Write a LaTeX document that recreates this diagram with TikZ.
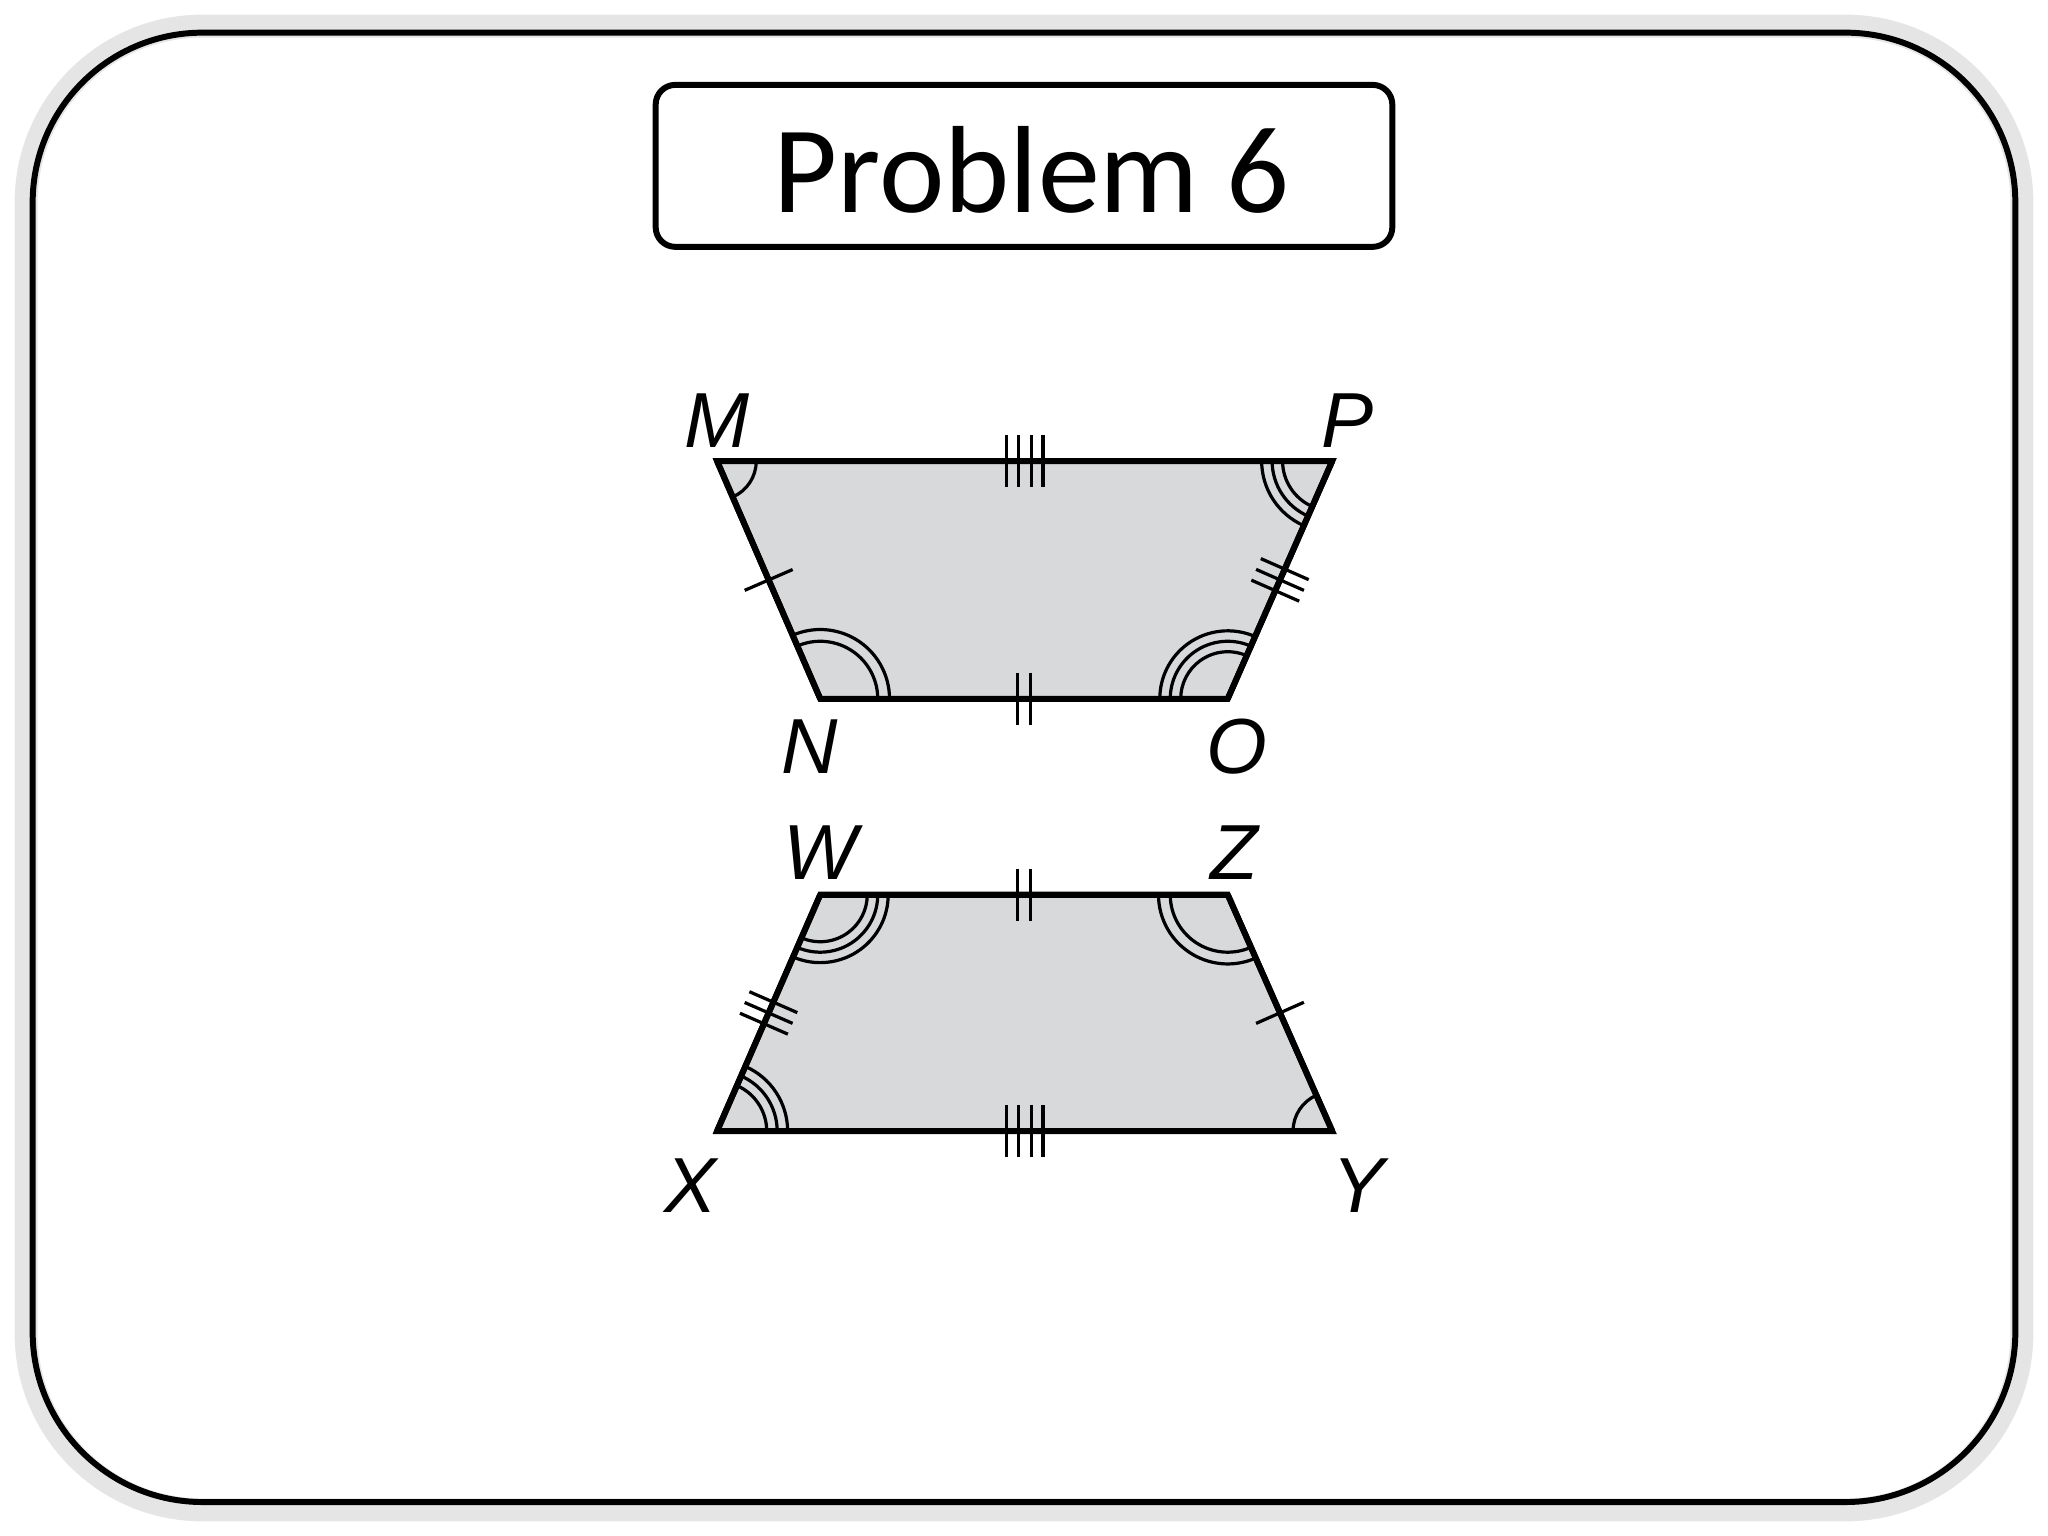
\documentclass[tikz,border=0pt]{standalone}
\usepackage{fontspec}
\setmainfont{Carlito}
\newfontfamily\lblfont{Liberation Sans}
\usetikzlibrary{angles,decorations.markings,calc}
\definecolor{shapegray}{RGB}{216,217,219}
\tikzset{
  edge/.style={line width=1.3pt},
  lbl/.style={font=\lblfont\itshape\fontsize{17}{17}\selectfont},
  arc1/.style={draw,line width=0.7pt},
  tk/.style={line width=0.7pt},
  ticks1/.style={postaction={decorate,decoration={markings,mark=at position 0.5 with {\draw[tk] (0cm,-0.2cm)--(0cm,0.2cm);}}}},
  ticks2/.style={postaction={decorate,decoration={markings,mark=at position 0.5 with {\foreach \k in {-0.05,0.05}{\draw[tk] (\k cm,-0.2cm)--(\k cm,0.2cm);}}}}},
  ticks3/.style={postaction={decorate,decoration={markings,mark=at position 0.5 with {\foreach \k in {-0.09,0,0.09}{\draw[tk] (\k cm,-0.2cm)--(\k cm,0.2cm);}}}}},
  ticks4/.style={postaction={decorate,decoration={markings,mark=at position 0.5 with {\foreach \k in {-0.14,-0.05,0.05,0.14}{\draw[tk] (\k cm,-0.2cm)--(\k cm,0.2cm);}}}}},
}
\begin{document}
\begin{tikzpicture}[x=0.01cm,y=-0.01cm]
\useasboundingbox (0,0) rectangle (1568,1176);
\draw[line width=5pt,gray!20,rounded corners=1.35cm] (20,20) rectangle (1548,1156);
\draw[line width=1.3pt,rounded corners=1.3cm] (25,25) rectangle (1543,1150);
\draw[line width=1.3pt,rounded corners=0.15cm] (502,65) rectangle (1066,189);
\node (title) at (790,130) {\fontsize{27}{27}\selectfont Problem 6};
\coordinate (M) at (549,353); \coordinate (P) at (1020,353);
\coordinate (O) at (940,535); \coordinate (N) at (628,535);
\coordinate (W) at (628,685); \coordinate (Z) at (940,685);
\coordinate (Y) at (1020,866); \coordinate (X) at (549,866);
\fill[shapegray] (M)--(P)--(O)--(N)--cycle;
\fill[shapegray] (W)--(Z)--(Y)--(X)--cycle;
\path pic[arc1,angle radius=0.3cm] {angle=N--M--P};
\foreach \r in {0.38,0.46,0.54} \path pic[arc1,angle radius=\r cm] {angle=M--P--O};
\foreach \r in {0.44,0.53} \path pic[arc1,angle radius=\r cm] {angle=O--N--M};
\foreach \r in {0.36,0.44,0.52} \path pic[arc1,angle radius=\r cm] {angle=P--O--N};
\foreach \r in {0.36,0.44,0.52} \path pic[arc1,angle radius=\r cm] {angle=X--W--Z};
\foreach \r in {0.44,0.53} \path pic[arc1,angle radius=\r cm] {angle=W--Z--Y};
\path pic[arc1,angle radius=0.3cm] {angle=Z--Y--X};
\foreach \r in {0.38,0.46,0.54} \path pic[arc1,angle radius=\r cm] {angle=Y--X--W};
\draw[edge,ticks4] (M)--(P);
\draw[edge,ticks3] (P)--(O);
\draw[edge,ticks2] (O)--(N);
\draw[edge,ticks1] (N)--(M);
\draw[edge,ticks2] (W)--(Z);
\draw[edge,ticks1] (Z)--(Y);
\draw[edge,ticks4] (Y)--(X);
\draw[edge,ticks3] (X)--(W);
\draw[edge,line join=miter] (M)--(P)--(O)--(N)--cycle;
\draw[edge,line join=miter] (W)--(Z)--(Y)--(X)--cycle;
\node[lbl] (lM) at (549,322) {M};
\node[lbl] (lP) at (1032,322) {P};
\node[lbl] (lN) at (620,572) {N};
\node[lbl] (lO) at (947,572) {O};
\node[lbl] (lW) at (628,653) {W};
\node[lbl] (lZ) at (945,653) {Z};
\node[lbl] (lX) at (529,908) {X};
\node[lbl] (lY) at (1040,908) {Y};
\end{tikzpicture}
\end{document}
